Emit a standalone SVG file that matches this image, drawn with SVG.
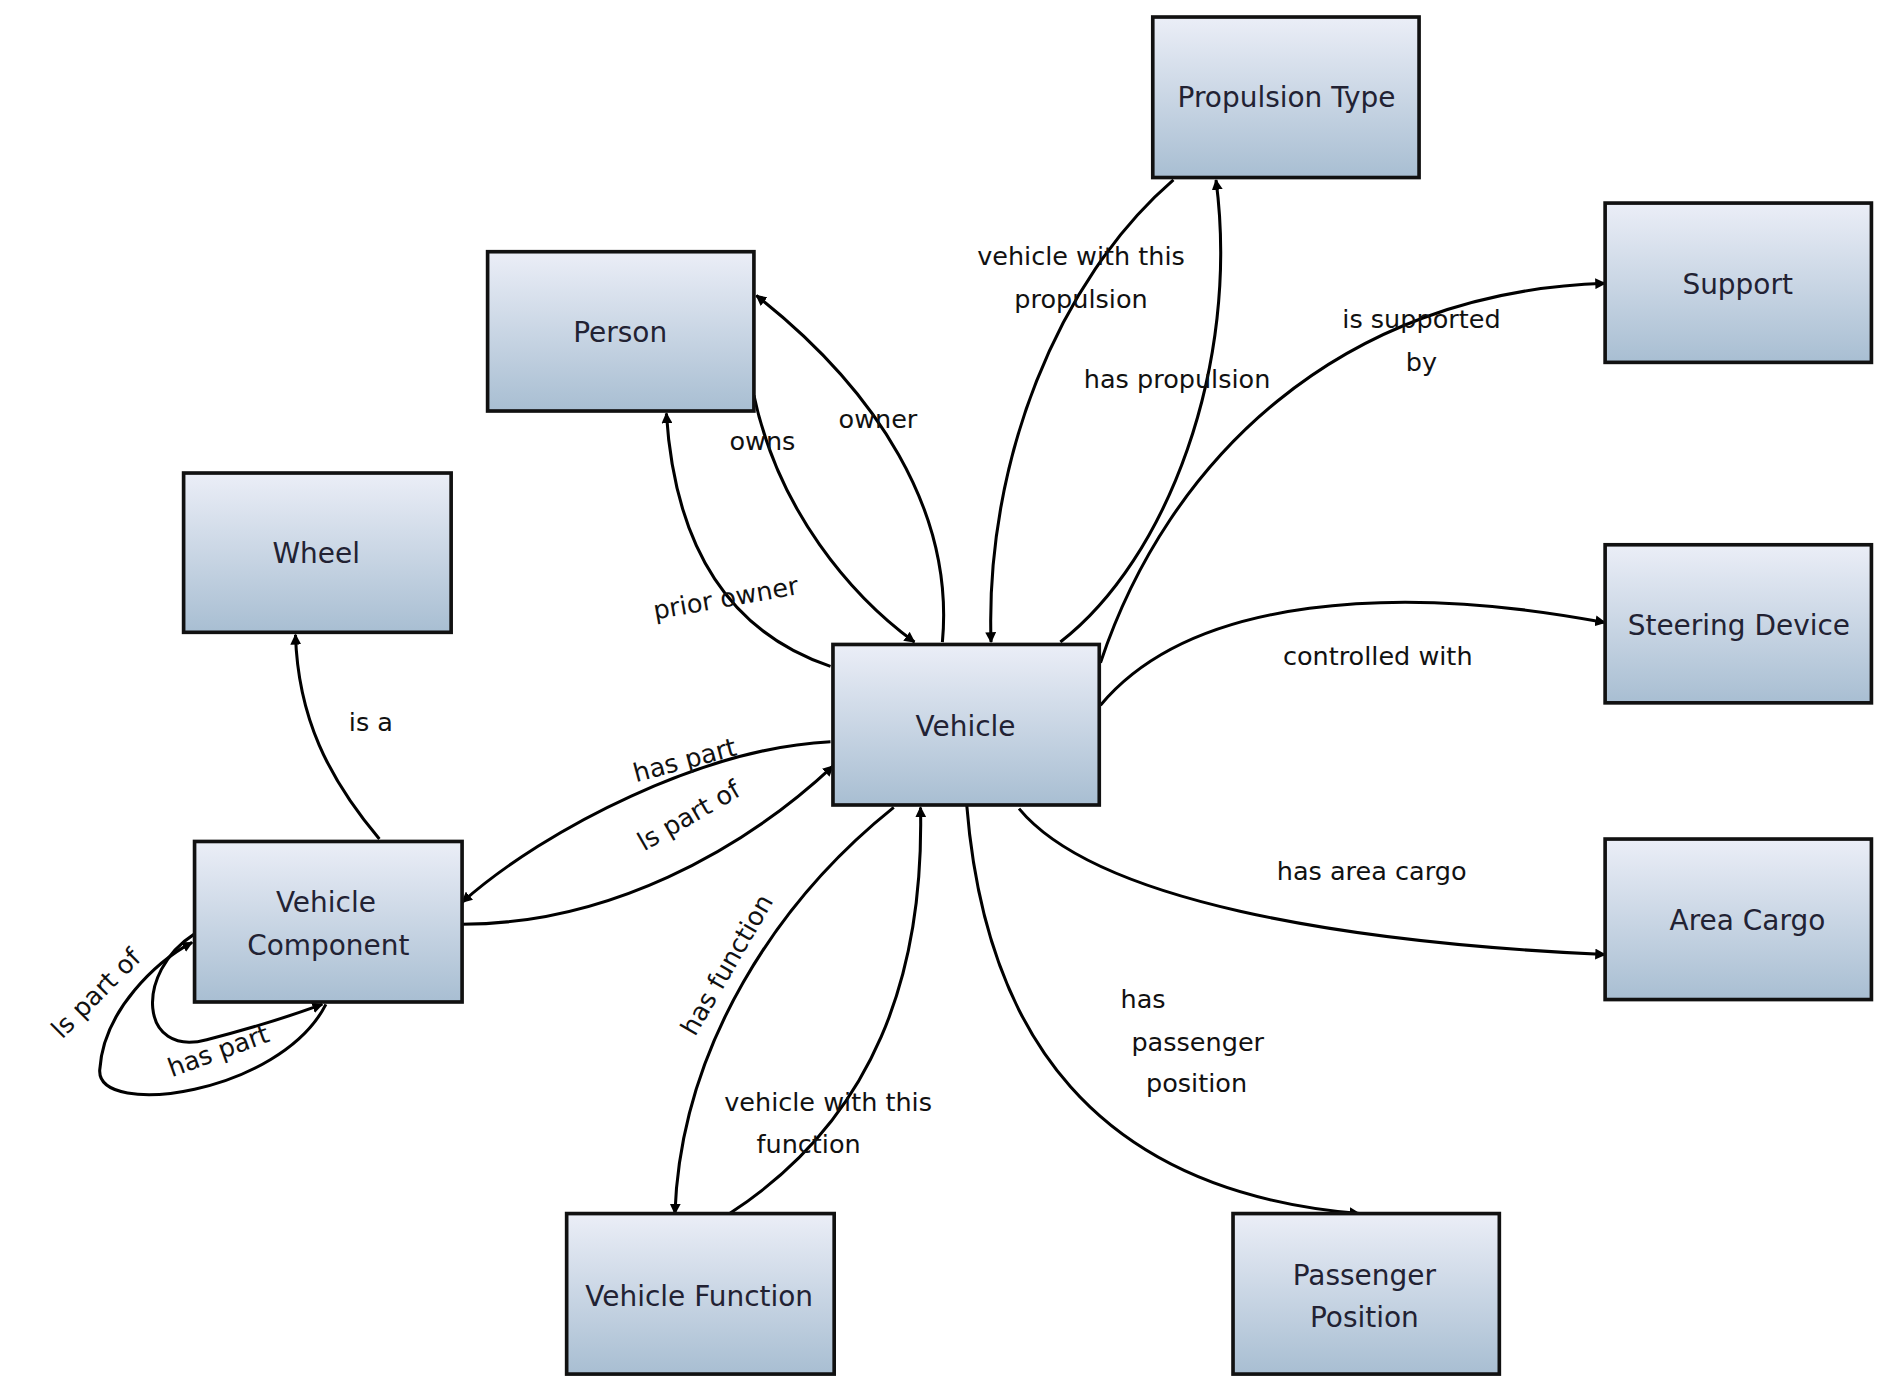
<svg xmlns="http://www.w3.org/2000/svg" width="1903" height="1387" viewBox="0 0 1903 1387">
<defs>
<linearGradient id="g" x1="0" y1="0" x2="0" y2="1"><stop offset="0" stop-color="#ebeef7"/><stop offset="1" stop-color="#a8bed2"/></linearGradient>
<marker id="a" viewBox="0 0 10 10" refX="9" refY="5" markerWidth="9" markerHeight="9" markerUnits="userSpaceOnUse" orient="auto"><path d="M0,0 L10,5 L0,10 z" fill="#000"/></marker>
<style>
.n rect{fill:url(#g);stroke:#111;stroke-width:3}
.n text{font-family:"DejaVu Sans",sans-serif;font-size:23px;fill:#223;text-anchor:middle}
.e path{fill:none;stroke:#000;stroke-width:2.5;marker-end:url(#a)}
.l{font-family:"DejaVu Sans",sans-serif;font-size:21px;fill:#111;text-anchor:middle}
</style>
</defs>
<rect width="1903" height="1387" fill="#fff"/>
<g transform="scale(1.216)">
<g class="e" id="connectors">
<path d="M620,325 C640,420 700,490 752,528"/>
<path d="M775,528 C785,420 720,320 622,243"/>
<path d="M683,548 C600,520 555,450 548,340"/>
<path d="M965,148 C870,230 810,380 815,528"/>
<path d="M872,528 C960,460 1020,300 1000,148"/>
<path d="M905,545 C960,380 1100,240 1320,233"/>
<path d="M905,580 C980,490 1150,480 1320,512"/>
<path d="M838,665 C900,740 1100,775 1320,785"/>
<path d="M795,662 C810,850 900,980 1118,998"/>
<path d="M735,664 C640,740 560,860 555,998"/>
<path d="M600,998 C720,920 760,800 757,664"/>
<path d="M683,610 C580,615 450,680 380,742"/>
<path d="M380,760 C500,760 610,700 685,630"/>
<path d="M312,690 C270,640 245,590 243,522"/>
<path d="M268,826 C230,900 80,920 82,880 C85,830 130,790 158,775"/>
<path d="M160,768 C110,800 115,870 170,855 C210,845 240,835 265,826"/>
</g>
<g id="labels">
<text class="l" x="627" y="370">owns</text>
<text class="l" x="722" y="352">owner</text>
<text class="l" transform="translate(598,499) rotate(-10)">prior owner</text>
<text class="l" x="889" y="218">vehicle with this</text>
<text class="l" x="889" y="253">propulsion</text>
<text class="l" x="968" y="319">has propulsion</text>
<text class="l" x="1169" y="270">is supported</text>
<text class="l" x="1169" y="305">by</text>
<text class="l" x="1133" y="547">controlled with</text>
<text class="l" x="1128" y="724">has area cargo</text>
<text class="l" x="940" y="829">has</text>
<text class="l" x="985" y="864">passenger</text>
<text class="l" x="984" y="898">position</text>
<text class="l" transform="translate(604,797) rotate(-60)">has function</text>
<text class="l" x="681" y="914">vehicle with this</text>
<text class="l" x="665" y="948">function</text>
<text class="l" transform="translate(565,632) rotate(-15)">has part</text>
<text class="l" transform="translate(570,677) rotate(-30)">ls part of</text>
<text class="l" x="305" y="601">is a</text>
<text class="l" transform="translate(84,822) rotate(-45)">ls part of</text>
<text class="l" transform="translate(182,871) rotate(-20)">has part</text>
</g>
<g class="n" id="propulsion"><rect x="948" y="14" width="219" height="132"/><text x="1058" y="88">Propulsion Type</text></g>
<g class="n" id="person"><rect x="401" y="207" width="219" height="131"/><text x="510" y="281">Person</text></g>
<g class="n" id="support"><rect x="1320" y="167" width="219" height="131"/><text x="1429" y="242">Support</text></g>
<g class="n" id="wheel"><rect x="151" y="389" width="220" height="131"/><text x="260" y="463">Wheel</text></g>
<g class="n" id="steering"><rect x="1320" y="448" width="219" height="130"/><text x="1430" y="522">Steering Device</text></g>
<g class="n" id="vehicle"><rect x="685" y="530" width="219" height="132"/><text x="794" y="605">Vehicle</text></g>
<g class="n" id="component"><rect x="160" y="692" width="220" height="132"/><text x="268" y="750">Vehicle</text><text x="270" y="785">Component</text></g>
<g class="n" id="cargo"><rect x="1320" y="690" width="219" height="132"/><text x="1437" y="765">Area Cargo</text></g>
<g class="n" id="function"><rect x="466" y="998" width="220" height="132"/><text x="575" y="1074">Vehicle Function</text></g>
<g class="n" id="passenger"><rect x="1014" y="998" width="219" height="132"/><text x="1122" y="1057">Passenger</text><text x="1122" y="1091">Position</text></g>
</g>
</svg>
